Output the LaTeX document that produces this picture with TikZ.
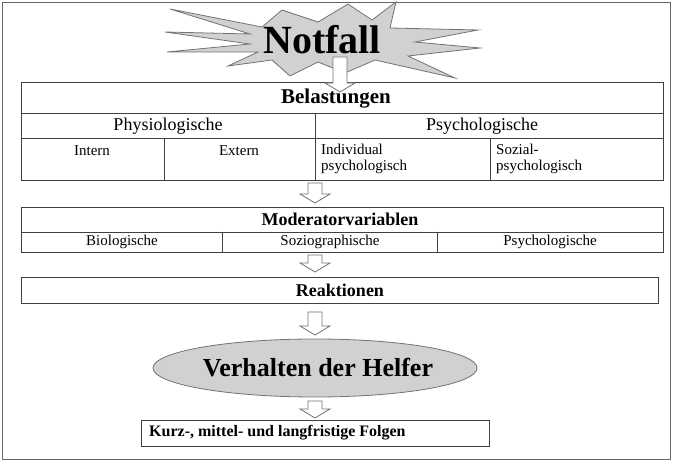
\documentclass[tikz,border=0pt]{standalone}
\usepackage{fontspec}
\setmainfont{Liberation Serif}[BoldFont={Liberation Serif Bold},ItalicFont={Liberation Serif Italic}]
\usetikzlibrary{shapes.geometric}
\tikzset{
  px/.style={x=1pt,y=-1pt},
  frame/.style={draw=black!60,line width=0.8pt},
  cell/.style={draw=black!75,line width=0.7pt},
  blk/.style={draw=black!55,fill=white,line width=0.8pt},
  lbl/.style={inner sep=0pt,anchor=center}
}
\newcommand{\myblockarrow}[3]{% x, ytop, ybottom
  \draw[blk] (#1-7,#2) -- (#1+7,#2) -- (#1+7,#3-9) -- (#1+15,#3-9) -- (#1,#3) -- (#1-15,#3-9) -- (#1-7,#3-9) -- cycle;}
\begin{document}
\begin{tikzpicture}[px]
\useasboundingbox (0,0) rectangle (673,462);
\fill[white] (0,0) rectangle (673,462);
\draw[frame] (2,2) rectangle (670,459);
% starburst
\draw[blk,fill=black!18] (170,9) -- (262,27) -- (282,10) -- (318,22) -- (348,4) -- (372,20) -- (396,2) -- (390,28) -- (478,30) -- (415,42) -- (480,48) -- (408,56) -- (455,78) -- (375,60) -- (345,73) -- (318,62) -- (290,76) -- (272,60) -- (228,66) -- (258,52) -- (167,52) -- (250,44) -- (165,32) -- (250,34) -- cycle;
\node[lbl,font=\fontsize{40}{42}\selectfont\bfseries] (notfall) at (322,40) {Notfall};
% Belastungen table
\draw[cell,fill=white] (21,82) rectangle (663,180);
\draw[cell] (21,113) -- (663,113) (21,138) -- (663,138) (315,113) -- (315,180) (164,138) -- (164,180) (490,138) -- (490,180);
\myblockarrow{340}{57}{92}
\node[lbl,font=\fontsize{21}{23}\selectfont\bfseries] (bel) at (336,99) {Belastungen};
\node[lbl,font=\fontsize{18}{20}\selectfont] (phys) at (168,126) {Physiologische};
\node[lbl,font=\fontsize{18}{20}\selectfont] (psy) at (482,126) {Psychologische};
\node[lbl,font=\fontsize{15}{16}\selectfont] (intern) at (92,151) {Intern};
\node[lbl,font=\fontsize{15}{16}\selectfont] (extern) at (239,151) {Extern};
\node[lbl,anchor=north west,align=left,font=\fontsize{15}{15.5}\selectfont] (indiv) at (321,144) {Individual\\psychologisch};
\node[lbl,anchor=north west,align=left,font=\fontsize{15}{15.5}\selectfont] (sozial) at (496,144) {Sozial-\\psychologisch};
\myblockarrow{315}{183}{203}
% Moderatorvariablen
\draw[cell] (21,207) rectangle (663,252);
\draw[cell] (21,232) -- (663,232) (222,232) -- (222,252) (437,232) -- (437,252);
\node[lbl,font=\fontsize{18}{20}\selectfont\bfseries] (mod) at (340,219) {Moderatorvariablen};
\node[lbl,font=\fontsize{15}{16}\selectfont] (bio) at (122,242) {Biologische};
\node[lbl,font=\fontsize{15}{16}\selectfont] (sozio) at (330,242) {Soziographische};
\node[lbl,font=\fontsize{15}{16}\selectfont] (psy2) at (550,242) {Psychologische};
\myblockarrow{315}{255}{272}
% Reaktionen
\draw[cell] (21,277) rectangle (658,303);
\node[lbl,font=\fontsize{18}{20}\selectfont\bfseries] (reak) at (340,290) {Reaktionen};
\myblockarrow{315}{312}{335}
% Ellipse
\draw[blk,fill=black!18] (315,368) ellipse [x radius=162,y radius=29];
\node[lbl,font=\fontsize{26}{28}\selectfont\bfseries] (verh) at (318,368) {Verhalten der Helfer};
\myblockarrow{315}{401}{418}
% Folgen
\draw[cell] (141,420) rectangle (489,446);
\node[lbl,anchor=west,font=\fontsize{16}{18}\selectfont\bfseries] (folgen) at (149,433) {Kurz-, mittel- und langfristige Folgen};
\end{tikzpicture}
\end{document}
